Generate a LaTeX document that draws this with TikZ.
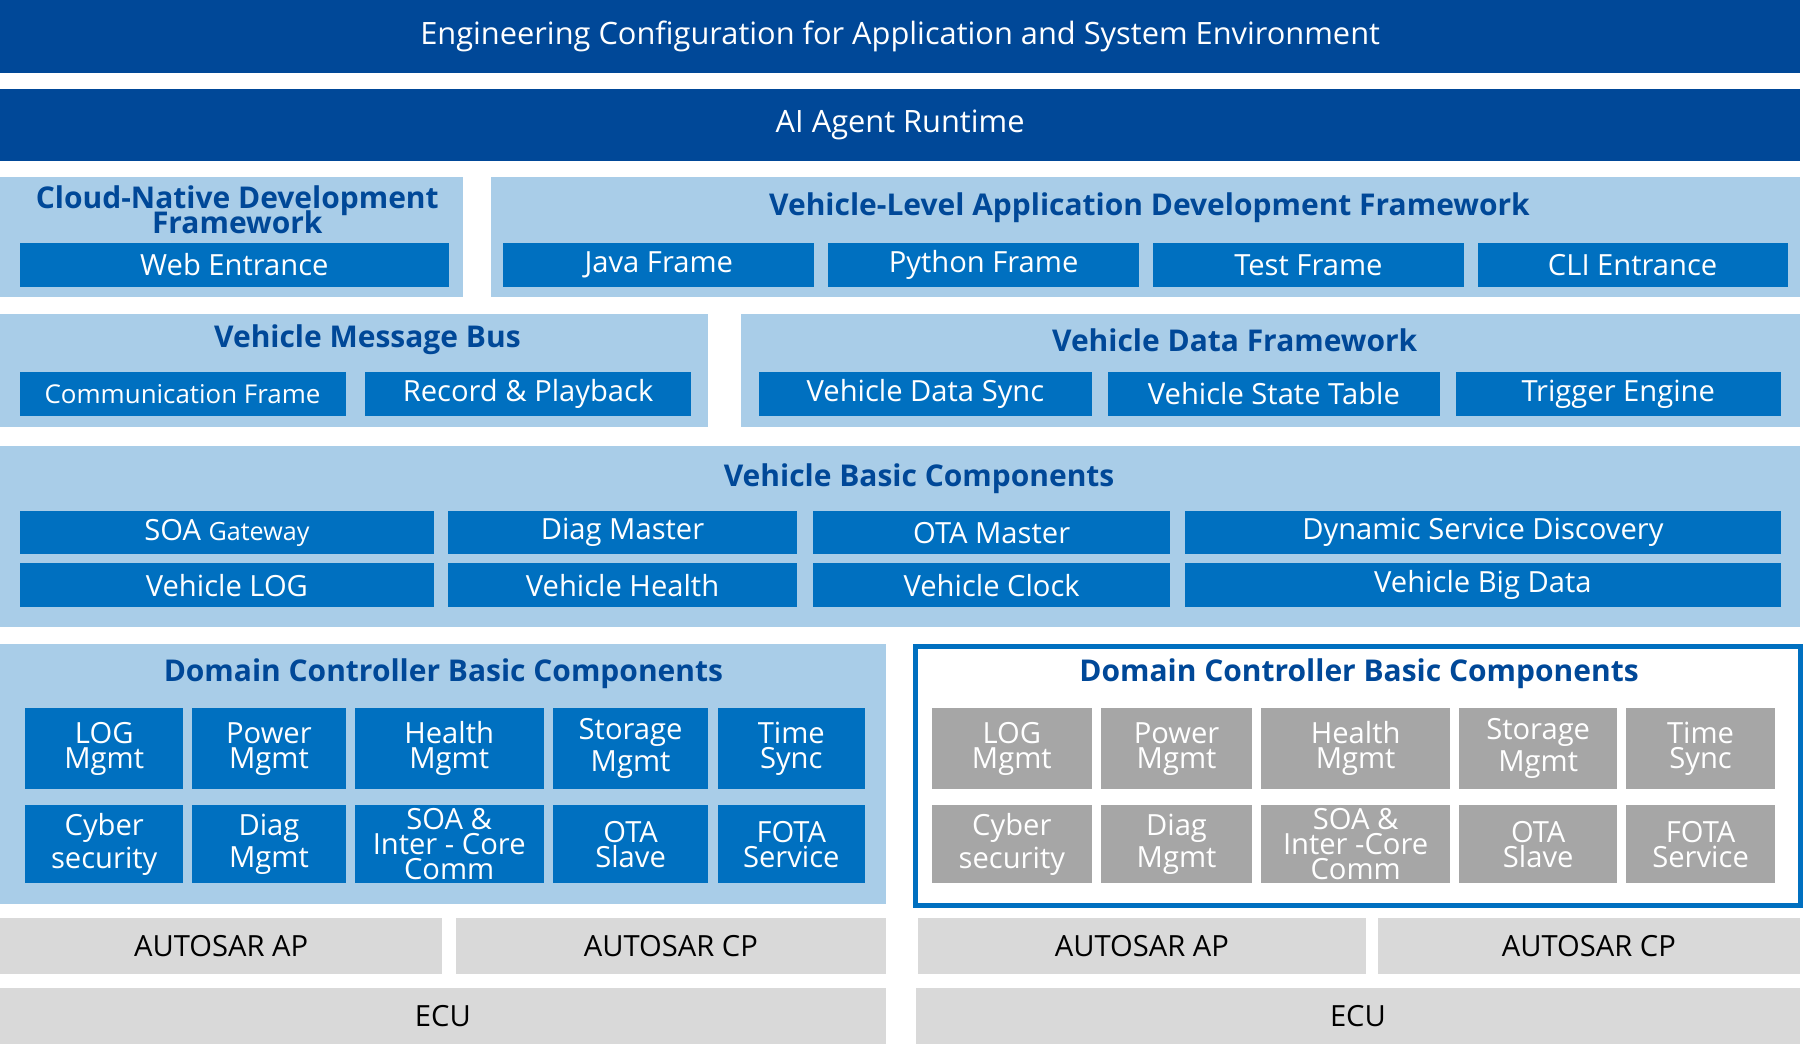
\documentclass[tikz,border=0pt]{standalone}
\usepackage{fontspec}
\setmainfont{Open Sans}
\definecolor{darkblue}{RGB}{0,72,152}
\definecolor{midblue}{RGB}{0,112,192}
\definecolor{lightblue}{RGB}{169,205,232}
\definecolor{tilegray}{RGB}{166,166,166}
\definecolor{lightgray}{RGB}{217,217,217}
\begin{document}
\begin{tikzpicture}[x=0.01cm, y=-0.01cm,
	bar/.style={fill=darkblue, text=white, font=\fontsize{7.6}{9}\selectfont},
	panel/.style={fill=lightblue},
	head/.style={text=darkblue, font=\fontsize{7.4}{8}\bfseries\selectfont, align=center},
	item/.style={fill=midblue, text=white, font=\fontsize{7.2}{8}\selectfont},
	tile/.style={fill=midblue, text=white, font=\fontsize{7.2}{6.2}\selectfont, align=center},
	gtile/.style={fill=tilegray, text=white, font=\fontsize{7.2}{6.2}\selectfont, align=center},
	base/.style={fill=lightgray, text=black, font=\fontsize{7.2}{8}\selectfont}]
	\useasboundingbox (0,0) rectangle (1568,906);

	% \blk#name#x1#y1#x2#y2#style#label
	\def\blk#1#2#3#4#5#6#7{
		\path[#6] (#2,#3) rectangle (#4,#5);
		\node[#6, fill=none] (#1) at ({(#2+#4)/2},{(#3+#5)/2}) {#7};
	}

	% top bars
	\blk{config}{0}{0}{1563}{63}{bar}{Engineering Configuration for Application and System Environment}
	\blk{runtime}{0}{77}{1563}{140}{bar}{AI Agent Runtime}

	% frameworks
	\path[panel] (0,154) rectangle (402,258);
	\node[head] (cloud) at (206,182) {Cloud-Native Development\\[-2pt]Framework};
	\blk{web}{17}{211}{390}{249}{item}{Web Entrance}
	\path[panel] (426,154) rectangle (1563,258);
	\node[head] (vlad) at (998,180) {Vehicle-Level Application Development Framework};
	\blk{java}{437}{211}{707}{249}{item}{Java Frame}
	\blk{python}{719}{211}{989}{249}{item}{Python Frame}
	\blk{test}{1001}{211}{1271}{249}{item}{Test Frame}
	\blk{cli}{1283}{211}{1552}{249}{item}{CLI Entrance}

	% bus and data
	\path[panel] (0,273) rectangle (615,371);
	\node[head] (bus) at (319,295) {Vehicle Message Bus};
	\blk{comm}{17}{323}{300}{361}{item, font=\fontsize{6.4}{8}\selectfont}{Communication Frame}
	\blk{record}{317}{323}{600}{361}{item}{Record \& Playback}
	\path[panel] (643,273) rectangle (1563,371);
	\node[head] (data) at (1072,295) {Vehicle Data Framework};
	\blk{sync}{659}{323}{948}{361}{item}{Vehicle Data Sync}
	\blk{state}{962}{323}{1250}{361}{item}{Vehicle State Table}
	\blk{trigger}{1264}{323}{1546}{361}{item}{Trigger Engine}

	% basic components
	\path[panel] (0,387) rectangle (1563,544);
	\node[head] (basic) at (798,416) {Vehicle Basic Components};
	\blk{soa}{17}{444}{377}{481}{item}{SOA {\fontsize{6.2}{8}\selectfont Gateway}}
	\blk{diag}{389}{444}{692}{481}{item}{Diag Master}
	\blk{ota}{706}{444}{1016}{481}{item}{OTA Master}
	\blk{dsd}{1029}{444}{1546}{481}{item}{Dynamic Service Discovery}
	\blk{log}{17}{489}{377}{527}{item}{Vehicle LOG}
	\blk{health}{389}{489}{692}{527}{item}{Vehicle Health}
	\blk{clock}{706}{489}{1016}{527}{item}{Vehicle Clock}
	\blk{bigdata}{1029}{489}{1546}{527}{item}{Vehicle Big Data}

	% domain controllers
	\path[panel] (0,559) rectangle (769,785);
	\node[head] (dcl) at (385,585) {Domain Controller Basic Components};
	\draw[midblue, line width=1.2pt] (795,561) rectangle (1563,786);
	\node[head] (dcr) at (1180,585) {Domain Controller Basic Components};
	\foreach \t/\x/\y/\u/\v/\txt in {
		a/22/615/159/685/LOG\\Mgmt, b/167/615/300/685/Power\\Mgmt, c/308/615/472/685/Health\\Mgmt,
		d/480/615/615/685/Storage\\Mgmt, e/623/615/751/685/Time\\Sync,
		f/22/699/159/767/Cyber\\security, g/167/699/300/767/Diag\\Mgmt,
		h/308/699/472/767/SOA \&\\Inter - Core\\Comm,
		i/480/699/615/767/OTA\\Slave, j/623/699/751/767/FOTA\\Service}{
		\blk{l\t}{\x}{\y}{\u}{\v}{tile}{\txt}
	}
	\foreach \t/\x/\y/\u/\v/\txt in {
		a/809/615/948/685/LOG\\Mgmt, b/956/615/1087/685/Power\\Mgmt, c/1095/615/1259/685/Health\\Mgmt,
		d/1267/615/1404/685/Storage\\Mgmt, e/1412/615/1541/685/Time\\Sync,
		f/809/699/948/767/Cyber\\security, g/956/699/1087/767/Diag\\Mgmt,
		h/1095/699/1259/767/SOA \&\\Inter -Core\\Comm,
		i/1267/699/1404/767/OTA\\Slave, j/1412/699/1541/767/FOTA\\Service}{
		\blk{r\t}{\x}{\y}{\u}{\v}{gtile}{\txt}
	}

	% autosar and ecu
	\blk{apl}{0}{797}{384}{846}{base}{AUTOSAR AP}
	\blk{cpl}{396}{797}{769}{846}{base}{AUTOSAR CP}
	\blk{apr}{797}{797}{1186}{846}{base}{AUTOSAR AP}
	\blk{cpr}{1196}{797}{1563}{846}{base}{AUTOSAR CP}
	\blk{ecul}{0}{858}{769}{906}{base}{ECU}
	\blk{ecur}{795}{858}{1563}{906}{base}{ECU}
\end{tikzpicture}
\end{document}
